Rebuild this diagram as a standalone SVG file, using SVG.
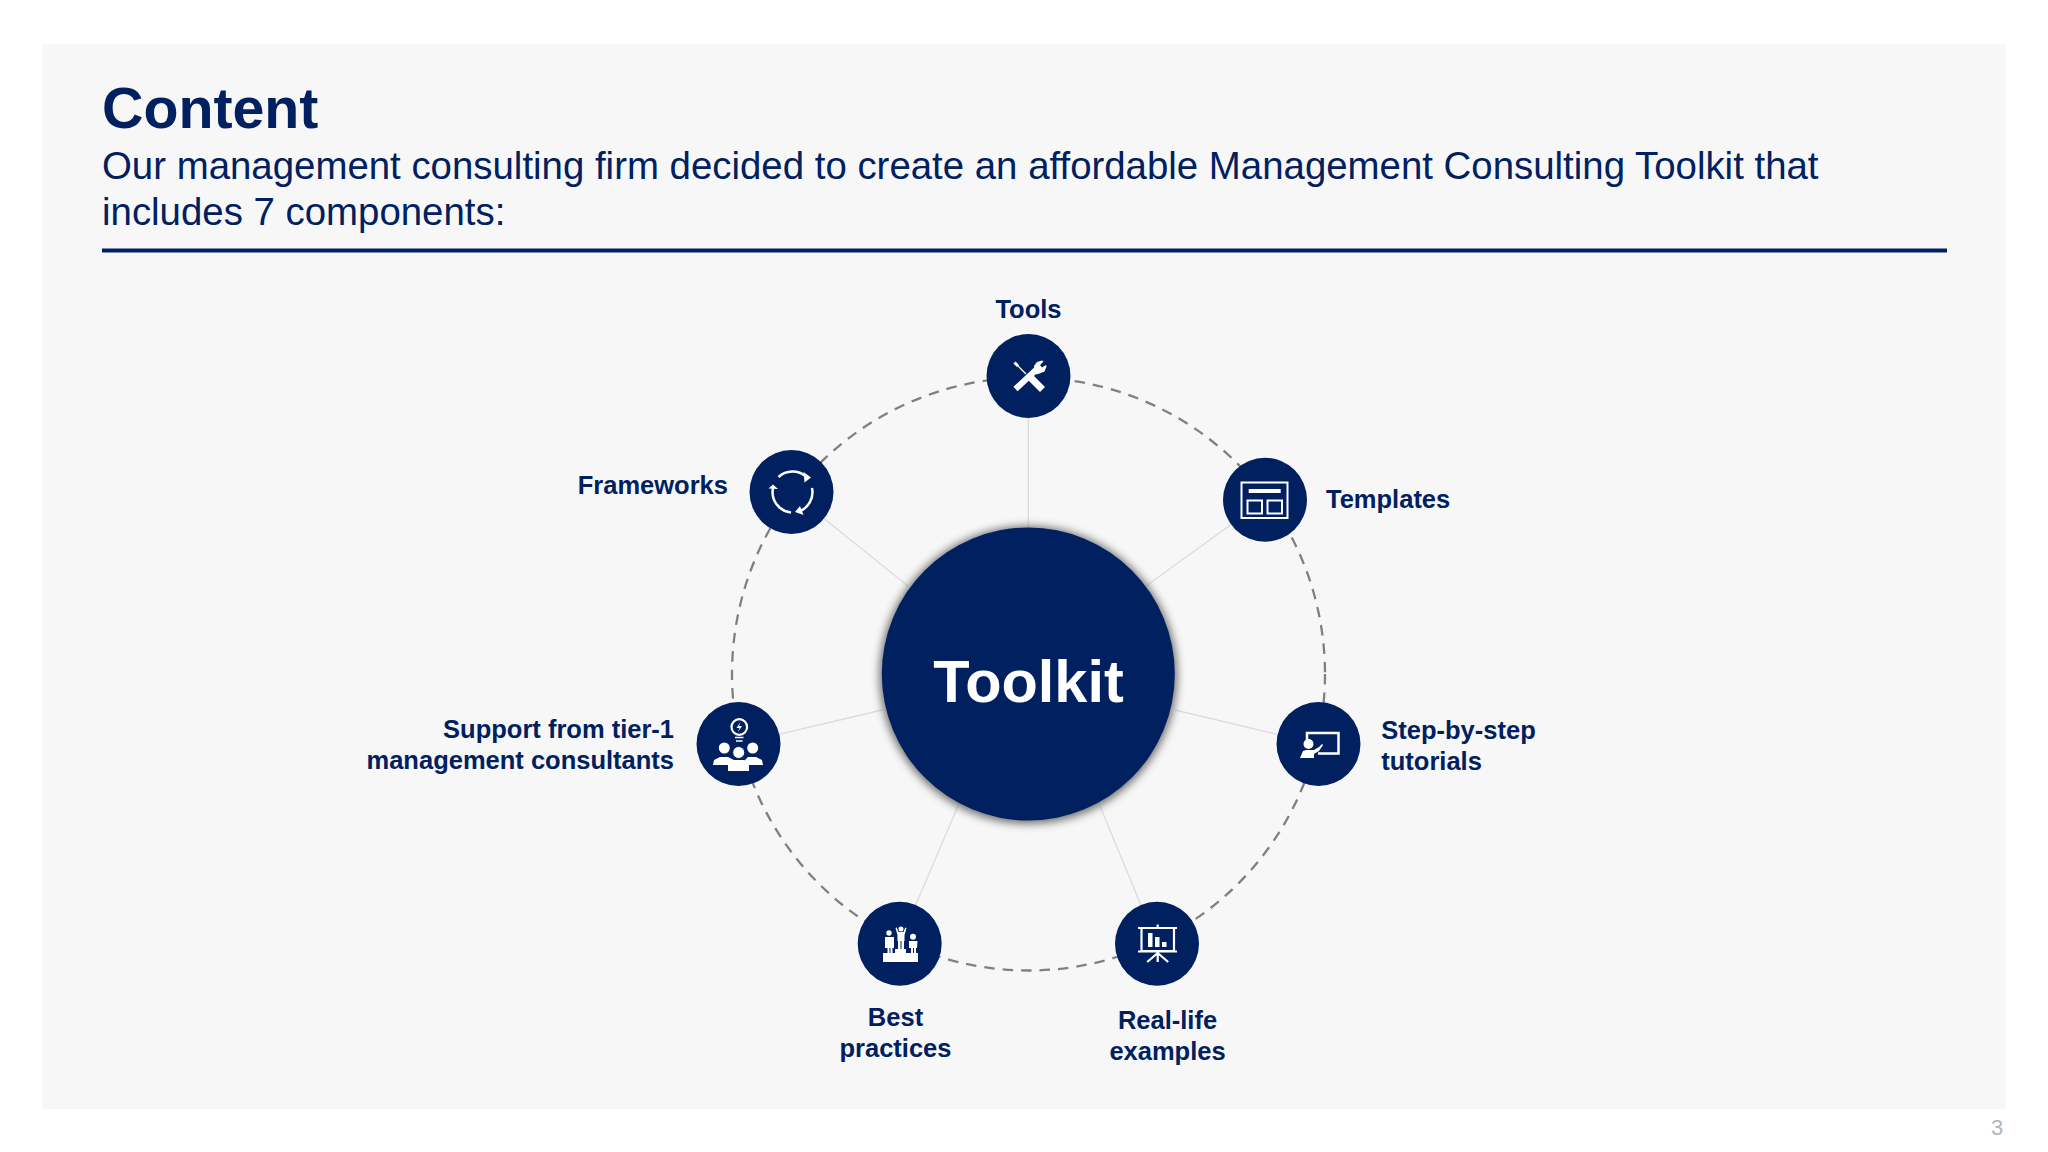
<svg xmlns="http://www.w3.org/2000/svg" width="2048" height="1152" viewBox="0 0 2048 1152">
<style>
text{font-family:"Liberation Sans",Arial,sans-serif;fill:#002060}
.lb{font-size:25.500px;font-weight:700}
.nd{fill:#002060}
.i{fill:#fff}
.o{fill:none;stroke:#fff;stroke-width:2.500}
.sp{stroke:#dcdcde;stroke-width:1.300;fill:none}
</style>
<defs><filter id="sh" x="-20%" y="-20%" width="140%" height="140%"><feGaussianBlur stdDeviation="4.500"/></filter></defs>
<rect width="2048" height="1152" fill="#fff"/>
<rect x="42" y="44" width="1964" height="1065" fill="#f7f7f8"/>
<text x="102" y="128" font-size="57.300" font-weight="700">Content</text>
<text x="102" y="179" font-size="38.400">Our management consulting firm decided to create an affordable Management Consulting Toolkit that</text>
<text x="102" y="225" font-size="38.400">includes 7 components:</text>
<rect x="102" y="248.500" width="1845" height="4" fill="#002060"/>
<g id="connectors">
<circle cx="1028.500" cy="674" r="296.500" fill="none" stroke="#808080" stroke-width="2.300" stroke-dasharray="10.500 8"/>
<path class="sp" d="M1028.300 376V527M791 492L908 586M1265 500L1146 586M1318 744L1175 710M738 744L882 710M899 944L958 806M1157 944L1100 806"/>
</g>
<g id="toolkit"><circle cx="1028.300" cy="675" r="149" fill="#444" filter="url(#sh)" opacity=".75"/><circle cx="1028.300" cy="674" r="146.500" class="nd"/>
<text x="1028.500" y="701.500" font-size="59.500" font-weight="700" text-anchor="middle" style="fill:#fff">Toolkit</text></g>
<g id="tools"><circle cx="1028.500" cy="376" r="42" class="nd"/>
<path d="M1031 378L1042.500 389.500" class="o" style="stroke-width:7"/>
<path d="M1015.500 389L1037 369" class="o" style="stroke-width:6"/>
<path class="i" d="M1034 366l3-4 5-1.500 1.500 1-3.500 3.500 2 2.500 4-2.500 .5 1.500-2 5-5 2-3 1z"/>
<path d="M1016.500 364.500L1026 374" class="o" style="stroke-width:1.200"/><path d="M1014.500 362.500L1018 366" class="o" style="stroke-width:3"/>
<text class="lb" x="1028.500" y="318" text-anchor="middle">Tools</text></g>
<g id="templates"><circle cx="1265" cy="499.700" r="42" class="nd"/>
<rect x="1241.500" y="482.500" width="46" height="35.500" class="o" style="stroke-width:2"/>
<rect x="1248.700" y="489" width="32" height="4" class="i"/>
<rect x="1247.500" y="500.500" width="14.500" height="13" class="o" style="stroke-width:2"/><rect x="1267.500" y="500.500" width="14.500" height="13" class="o" style="stroke-width:2"/>
<text class="lb" x="1326" y="508">Templates</text></g>
<g id="frameworks"><circle cx="791.500" cy="492" r="42" class="nd"/>
<path class="o" d="M778.500 477A20.500 20.500 0 0 1 806 476.500M812 488A20.500 20.500 0 0 1 799 511.500M791 512.500A20.500 20.500 0 0 1 773 488"/>
<path class="i" d="M803.500 472l7.500 5.500-6.500 5zM795 512l5-6 3.500 9zM773 484.500l-4.500 4 9.500 .5z"/>
<text class="lb" x="728" y="494" text-anchor="end">Frameworks</text></g>
<g id="steps"><circle cx="1318.500" cy="744" r="42" class="nd"/>
<path class="o" d="M1307 740V733H1338.500V753.500H1318"/>
<circle cx="1308.500" cy="744" r="5" class="i"/>
<path class="i" d="M1300 758l3-7 3-1h8l5-3 3-3 1 1-4 6-5 3v4z"/>
<text class="lb" x="1381.300" y="739">Step-by-step</text><text class="lb" x="1381.300" y="770">tutorials</text></g>
<g id="support"><circle cx="738.500" cy="744" r="42" class="nd"/>
<circle cx="739.300" cy="727" r="7.800" fill="none" stroke="#fff" stroke-width="2.200"/><path d="M735 737.500h8.500M736 741h6.500" stroke="#fff" stroke-width="1.500"/><path class="i" d="M740.500 722l-4 6h3l-1.500 4 4-6h-3z"/>
<circle cx="724.300" cy="748" r="5.500" class="i"/><circle cx="752.700" cy="748" r="5.500" class="i"/>
<path class="i" d="M713 765l1-5 6-3h8l6 3v2l-6 3zM743 765l-1-2 6-6h8l6 3 1 5z"/>
<circle cx="738.700" cy="752.500" r="6" class="i" stroke="#002060"/>
<path class="i" d="M728 771v-7l5-4h11l5 4v7z"/>
<text class="lb" x="674" y="737.500" text-anchor="end">Support from tier-1</text><text class="lb" x="674" y="768.500" text-anchor="end">management consultants</text></g>
<g id="best"><circle cx="899.700" cy="943.700" r="42" class="nd"/>
<path class="i" d="M883 962v-9h12v-4h11v4h12v9z"/>
<path class="i" d="M885 937h9v11h-1.500v5h-2v-5h-1v5h-2v-5h-2.500z"/>
<circle cx="889" cy="933" r="2.700" class="i"/>
<path class="i" d="M895.500 928l1.200-.4 1.800 4.400h5l1.800-4.400 1.200.4-2 7v6h-.5v8h-2.500v-8h-1v8h-2.500v-8h-.5v-6z"/>
<circle cx="901" cy="929" r="2.500" class="i"/>
<path class="i" d="M909 941h8.500l-.5 7h-1v5h-2v-5h-1v5h-2v-5h-2z"/>
<circle cx="913" cy="936.700" r="3" class="i"/>
<text class="lb" x="895.500" y="1026" text-anchor="middle">Best</text><text class="lb" x="895.500" y="1057" text-anchor="middle">practices</text></g>
<g id="real"><circle cx="1157" cy="943.700" r="42" class="nd"/>
<path d="M1138 928h39M1141.500 928v23h32.500v-23M1138 951.500h39M1157.700 924.500v3.500M1157.700 951v11M1157.700 953l-10.500 9M1157.700 953l10.500 9" class="o" style="stroke-width:2.200"/>
<rect x="1148" y="933" width="4.500" height="14" class="i"/><rect x="1155" y="937" width="4.500" height="10" class="i"/><rect x="1162" y="942" width="4.500" height="5" class="i"/>
<text class="lb" x="1167.500" y="1029" text-anchor="middle">Real-life</text><text class="lb" x="1167.500" y="1060" text-anchor="middle">examples</text></g>
<text x="1997" y="1135" font-size="22" text-anchor="middle" style="fill:#b4b4ba">3</text>
</svg>
